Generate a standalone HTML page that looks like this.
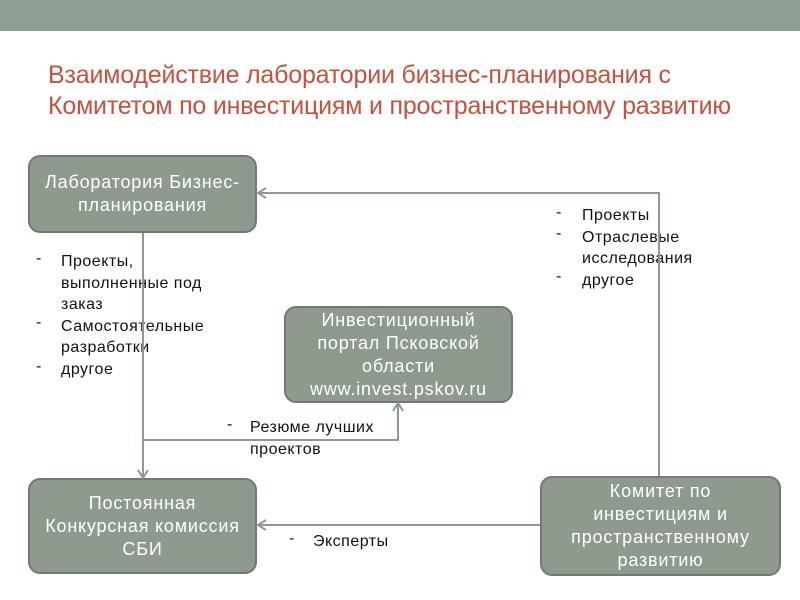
<!DOCTYPE html>
<html><head><meta charset="utf-8"><style>
body{margin:0;width:800px;height:600px;position:relative;background:#fff;font-family:"Liberation Sans",sans-serif;overflow:hidden}
.bar{position:absolute;left:0;top:0;width:800px;height:31px;background:#8f9e92}
.title{position:absolute;left:48px;top:60px;color:#c9503c;font-size:25px;line-height:31px;letter-spacing:-0.2px;white-space:nowrap}
.box{position:absolute;background:#8f9a8f;border:2px solid #6f7a70;border-radius:12px;color:#fff;font-size:18px;letter-spacing:0.8px;line-height:23px;text-align:center;display:flex;align-items:center;justify-content:center;box-sizing:border-box;white-space:nowrap}
.t{position:absolute;font-size:16px;letter-spacing:0.5px;line-height:21.5px;color:#111;white-space:nowrap}
.d{position:absolute;font-size:16px;color:#111}
</style></head><body>
<div class="bar"></div>
<div class="title">Взаимодействие лаборатории бизнес-планирования с<br>Комитетом по инвестициям и пространственному развитию</div>

<div class="box" style="left:28px;top:155px;width:229px;height:78px">Лаборатория Бизнес-<br>планирования</div>
<div class="box" style="left:284px;top:306px;width:229px;height:97px">Инвестиционный<br>портал Псковской<br>области<br>www.invest.pskov.ru</div>
<div class="box" style="left:28px;top:478px;width:229px;height:96px">Постоянная<br>Конкурсная комиссия<br>СБИ</div>
<div class="box" style="left:540px;top:476px;width:241px;height:100px">Комитет по<br>инвестициям и<br>пространственному<br>развитию</div>

<div class="d" style="left:36px;top:250px">-</div>
<div class="d" style="left:36px;top:314px">-</div>
<div class="d" style="left:36px;top:358px">-</div>
<div class="t" style="left:61px;top:251px">Проекты,<br>выполненные под<br>заказ<br>Самостоятельные<br>разработки<br>другое</div>

<div class="d" style="left:556px;top:204px">-</div>
<div class="d" style="left:556px;top:225px">-</div>
<div class="d" style="left:556px;top:268px">-</div>
<div class="t" style="left:582px;top:205px">Проекты<br>Отраслевые<br>исследования<br>другое</div>

<div class="d" style="left:227px;top:416px">-</div>
<div class="t" style="left:250px;top:417px">Резюме лучших<br>проектов</div>
<div class="d" style="left:289px;top:530px">-</div>
<div class="t" style="left:313px;top:531px">Эксперты</div>

<svg width="800" height="600" style="position:absolute;left:0;top:0" fill="none" stroke="#8f9a8f" stroke-width="2">
<path d="M143 233 V478"/><path d="M138 470 L143 478 L148 470"/>
<path d="M143 440 H398 V403"/><path d="M393 411 L398 403 L403 411"/>
<path d="M659 476 V193 H258"/><path d="M266 188 L258 193 L266 198"/>
<path d="M540 525 H258"/><path d="M266 520 L258 525 L266 530"/>
</svg>
</body></html>
